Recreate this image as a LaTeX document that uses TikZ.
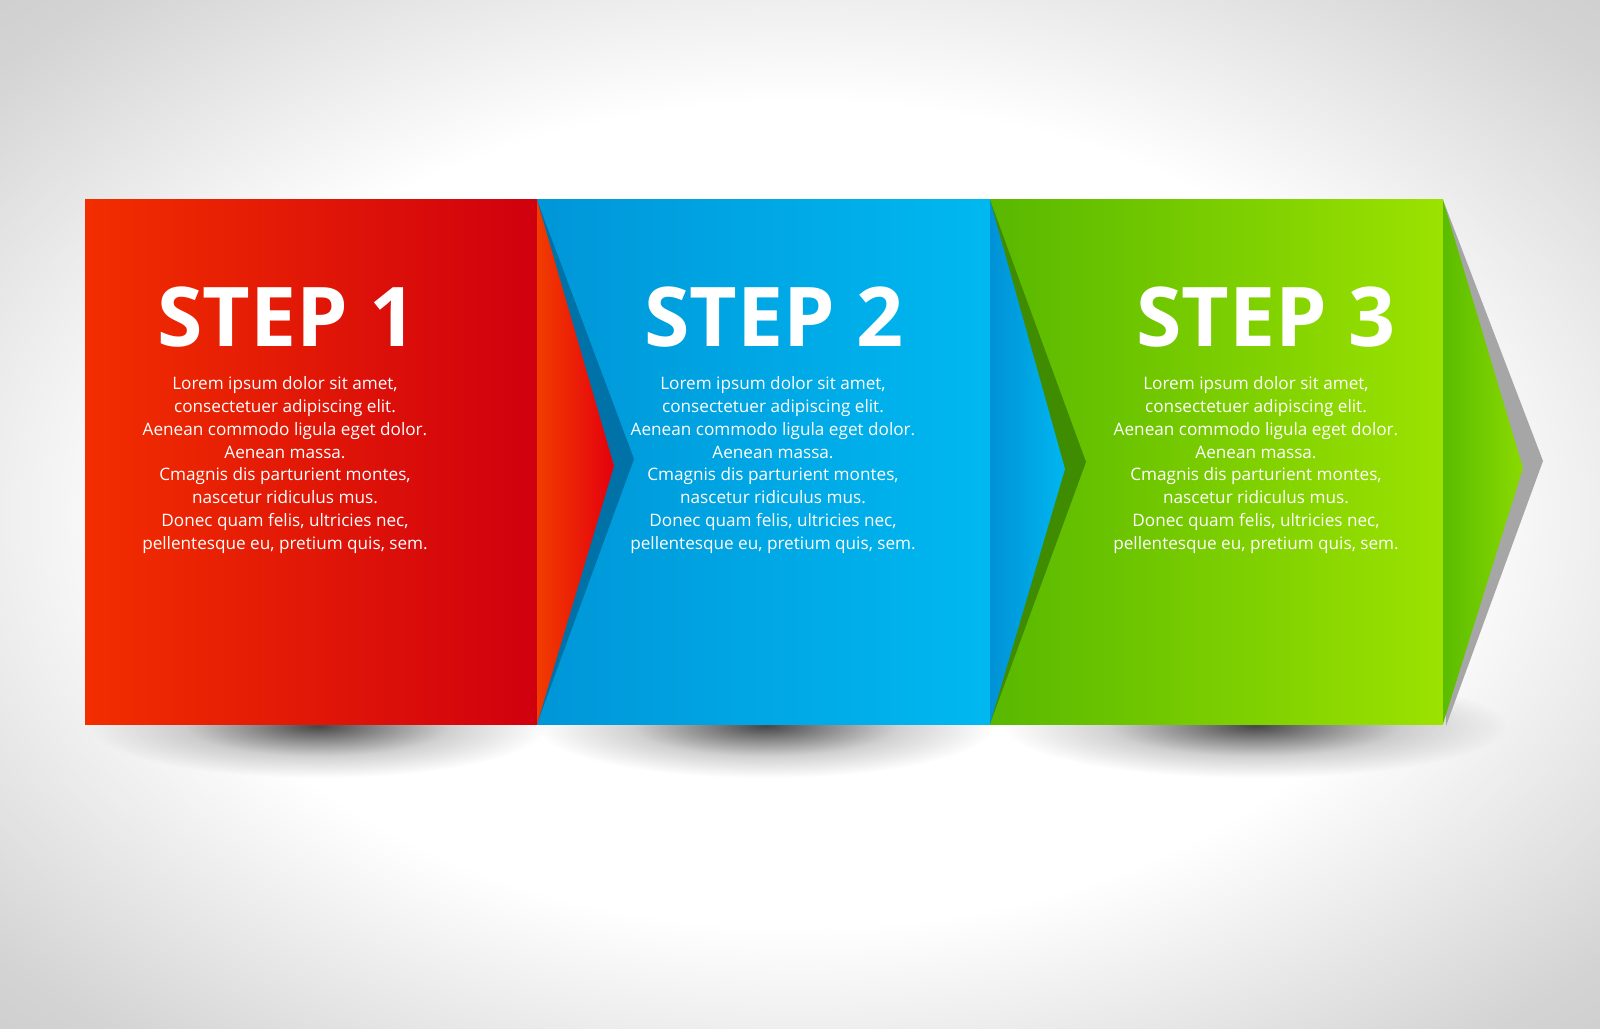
\documentclass[tikz,border=0pt]{standalone}
\usepackage{fontspec}
\setmainfont{Open Sans}
\usepackage{tikz}
\usetikzlibrary{
  fadings
}
\definecolor{redLeft}{HTML}{F22E00}
\definecolor{redMiddle}{HTML}{E8000C}
\definecolor{redRight}{HTML}{D0000E}
\definecolor{redFlapLeft}{HTML}{F23C00}
\definecolor{redFlapRight}{HTML}{E4000E}
\definecolor{blueLeft}{HTML}{0096D8}
\definecolor{blueMiddle}{HTML}{00A9E4}
\definecolor{blueRight}{HTML}{00B8F0}
\definecolor{blueShade}{HTML}{0072A8}
\definecolor{blueFlapLeft}{HTML}{0092D6}
\definecolor{blueFlapRight}{HTML}{00B6F0}
\definecolor{greenLeft}{HTML}{58B800}
\definecolor{greenMiddle}{HTML}{76CA00}
\definecolor{greenRight}{HTML}{9CE200}
\definecolor{greenShade}{HTML}{3F8C00}
\definecolor{greenFlapLeft}{HTML}{5ABC00}
\definecolor{greenFlapRight}{HTML}{8ADA00}
\definecolor{grayShade}{HTML}{A6A6A6}
\pgfdeclareradialshading{backdrop}{\pgfpointorigin}{%
  color(0bp)=(white); color(20bp)=(white); color(33bp)=(black!17);
  color(50bp)=(black!28)}
\pgfdeclareradialshading{shadowmask}{\pgfpointorigin}{%
  color(0bp)=(white); color(5bp)=(white!65!black);
  color(11bp)=(white!25!black); color(19bp)=(black); color(50bp)=(black)}
\pgfdeclarefading{shadowfade}{\pgfuseshading{shadowmask}}

\begin{document}
\begin{tikzpicture}[
  x=0.025cm,
  y=-0.025cm,
  every step title/.style={
    text=white,
    inner sep=0pt,
    font=\fontsize{58.6}{60}\selectfont\bfseries,
  },
  every step text/.style={
    text=white,
    inner sep=0pt,
    align=center,
    font=\fontsize{12.2}{16.3}\selectfont,
  },
  step title/.style={every step title/.try,anchor=base},
  step text/.style={every step text/.try,anchor=north},
  panel shadow/.style={black!72,path fading=shadowfade},
]
\useasboundingbox (0,0) rectangle (1600,1029);
\shade[shading=backdrop] (0,0) rectangle (1600,1029);
% shadows under the panels
\fill[panel shadow] (318,726) ellipse (300 and 68);
\fill[panel shadow] (765,726) ellipse (300 and 68);
\fill[panel shadow] (1255,726) ellipse (330 and 68);
% panels
\shade[left color=redLeft,middle color=redMiddle,right color=redRight]
  (85,200) rectangle (537,724);
\shade[left color=blueLeft,middle color=blueMiddle,right color=blueRight]
  (537,200) rectangle (990,724);
\shade[left color=greenLeft,middle color=greenMiddle,right color=greenRight]
  (990,200) rectangle (1443,724);
% folds
\fill[blueShade] (537,200) -- (634,459) -- (537,724) -- cycle;
\fill[greenShade] (990,200) -- (1086,462) -- (990,724) -- cycle;
\fill[grayShade] (1443,200) -- (1543,461) -- (1446,726) -- cycle;
\shade[left color=redFlapLeft,right color=redFlapRight]
  (537,200) -- (614,466) -- (537,724) -- cycle;
\shade[left color=blueFlapLeft,right color=blueFlapRight]
  (990,200) -- (1065,469) -- (990,724) -- cycle;
\shade[left color=greenFlapLeft,right color=greenFlapRight]
  (1443,200) -- (1523,468) -- (1443,724) -- cycle;
% texts
\node[step title] (title1) at (287,347) {STEP 1};
\node[step title] (title2) at (774,347) {STEP 2};
\node[step title] (title3) at (1266,347) {STEP 3};
\node[step text] (text1) at (285,376) {Lorem ipsum dolor sit amet,\\consectetuer adipiscing elit.\\Aenean commodo ligula eget dolor.\\Aenean massa.\\Cmagnis dis parturient montes,\\nascetur ridiculus mus.\\Donec quam felis, ultricies nec,\\pellentesque eu, pretium quis, sem.};
\node[step text] (text2) at (773,376) {Lorem ipsum dolor sit amet,\\consectetuer adipiscing elit.\\Aenean commodo ligula eget dolor.\\Aenean massa.\\Cmagnis dis parturient montes,\\nascetur ridiculus mus.\\Donec quam felis, ultricies nec,\\pellentesque eu, pretium quis, sem.};
\node[step text] (text3) at (1256,376) {Lorem ipsum dolor sit amet,\\consectetuer adipiscing elit.\\Aenean commodo ligula eget dolor.\\Aenean massa.\\Cmagnis dis parturient montes,\\nascetur ridiculus mus.\\Donec quam felis, ultricies nec,\\pellentesque eu, pretium quis, sem.};
\end{tikzpicture}
\end{document}
